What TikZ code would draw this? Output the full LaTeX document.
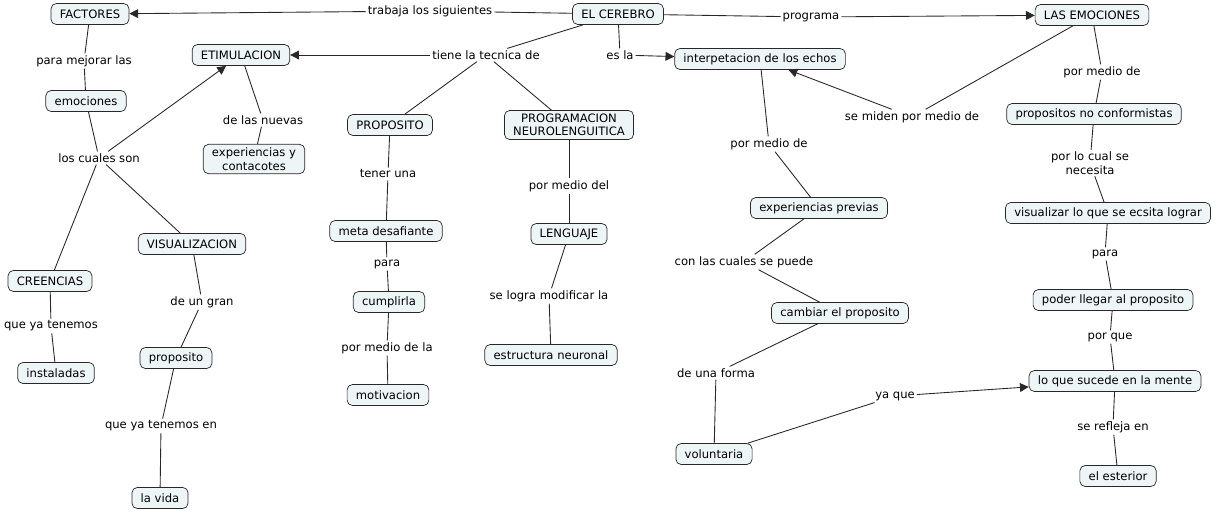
\documentclass[tikz,border=0pt]{standalone}
\usepackage{fontspec}
\setmainfont{DejaVu Sans}
\usetikzlibrary{arrows.meta}
\definecolor{cfill}{RGB}{238,245,246}
\definecolor{cline}{RGB}{40,40,40}

\begin{document}
\begin{tikzpicture}[x=0.02cm,y=-0.02cm]

\tikzset{concept/.style={font=\fontsize{6.6}{7.6}\selectfont,draw=cline,fill=cfill,rounded corners=3pt,inner xsep=5pt,inner ysep=2pt,minimum height=0.42cm,align=center},
link/.style={font=\fontsize{6.6}{7.6}\selectfont,fill=white,inner sep=1pt,align=center},
conn/.style={draw=cline,line width=0.5pt},
arr/.style={conn,-{Triangle[length=5pt,width=5pt]}}}

\path[use as bounding box] (0,0) rectangle (1217,512);

% Concepts
\node[concept] (factores) at (90,14) {FACTORES};
\node[concept] (cerebro) at (618,14) {EL CEREBRO};
\node[concept] (lasemoc) at (1092,15) {LAS EMOCIONES};
\node[concept] (etimul) at (241,55) {ETIMULACION};
\node[concept] (interp) at (760,59) {interpetacion de los echos};
\node[concept] (emoc) at (86,101) {emociones};
\node[concept] (propno) at (1094,114) {propositos no conformistas};
\node[concept] (propos) at (390,125) {PROPOSITO};
\node[concept] (progneu) at (569,125) {PROGRAMACION\\NEUROLENGUITICA};
\node[concept] (expcont) at (254,159) {experiencias y\\contacotes};
\node[concept] (exprev) at (819,208) {experiencias previas};
\node[concept] (visual) at (1108,213) {visualizar lo que se ecsita lograr};
\node[concept] (meta) at (386,231) {meta desafiante};
\node[concept] (lenguaje) at (569,234) {LENGUAJE};
\node[concept] (visualiz) at (192,244) {VISUALIZACION};
\node[concept] (creenc) at (50,281) {CREENCIAS};
\node[concept] (cumpl) at (389,302) {cumplirla};
\node[concept] (poder) at (1113,300) {poder llegar al proposito};
\node[concept] (cambiar) at (840,313) {cambiar el proposito};
\node[concept] (estruct) at (551,355) {estructura neuronal};
\node[concept] (proposito) at (176,358) {proposito};
\node[concept] (instal) at (56,373) {instaladas};
\node[concept] (sucede) at (1115,381) {lo que sucede en la mente};
\node[concept] (motiv) at (388,395) {motivacion};
\node[concept] (volunt) at (714,454) {voluntaria};
\node[concept] (esterior) at (1118,476) {el esterior};
\node[concept] (vida) at (160,498) {la vida};

% Linking phrases
\node[link] (l1) at (430,11) {trabaja los siguientes};
\node[link] (l2) at (811,17) {programa};
\node[link] (l3) at (486,55) {tiene la tecnica de};
\node[link] (l4) at (620,55) {es la};
\node[link] (l5) at (84,61) {para mejorar las};
\node[link] (l6) at (1102,72) {por medio de};
\node[link] (l7) at (263,120) {de las nuevas};
\node[link] (l8) at (912,117) {se miden por medio de};
\node[link] (l9) at (99,158) {los cuales son};
\node[link] (l10) at (769,144) {por medio de};
\node[link] (l11) at (1090,163) {por lo cual se\\necesita};
\node[link] (l12) at (388,174) {tener una};
\node[link] (l13) at (569,186) {por medio del};
\node[link] (l14) at (744,262) {con las cuales se puede};
\node[link] (l15) at (1105,254) {para};
\node[link] (l16) at (387,264) {para};
\node[link] (l17) at (202,302) {de un gran};
\node[link] (l18) at (549,296) {se logra modificar la};
\node[link] (l19) at (51,326) {que ya tenemos};
\node[link] (l20) at (1110,337) {por que};
\node[link] (l21) at (387,348) {por medio de la};
\node[link] (l22) at (716,373) {de una forma};
\node[link] (l23) at (895,396) {ya que};
\node[link] (l24) at (1113,427) {se refleja en};
\node[link] (l25) at (161,426) {que ya tenemos en};

% Connections
\draw[conn] (cerebro) -- (l1); \draw[arr] (l1) -- (factores);
\draw[conn] (cerebro) -- (l2); \draw[arr] (l2) -- (lasemoc);
\draw[conn] (cerebro) -- (l3); \draw[arr] (l3) -- (etimul);
\draw[conn] (l3) -- (propos); \draw[conn] (l3) -- (progneu);
\draw[conn] (cerebro) -- (l4); \draw[arr] (l4) -- (interp);
\draw[conn] (factores) -- (l5); \draw[conn] (l5) -- (emoc);
\draw[conn] (emoc) -- (l9); \draw[arr] (l9) -- (etimul);
\draw[conn] (l9) -- (creenc); \draw[conn] (l9) -- (visualiz);
\draw[conn] (etimul) -- (l7); \draw[conn] (l7) -- (expcont);
\draw[conn] (lasemoc) -- (l6); \draw[conn] (l6) -- (propno);
\draw[conn] (lasemoc) -- (l8); \draw[arr] (l8) -- (interp);
\draw[conn] (propno) -- (l11); \draw[conn] (l11) -- (visual);
\draw[conn] (visual) -- (l15); \draw[conn] (l15) -- (poder);
\draw[conn] (poder) -- (l20); \draw[conn] (l20) -- (sucede);
\draw[conn] (sucede) -- (l24); \draw[conn] (l24) -- (esterior);
\draw[conn] (interp) -- (l10); \draw[conn] (l10) -- (exprev);
\draw[conn] (exprev) -- (l14); \draw[conn] (l14) -- (cambiar);
\draw[conn] (cambiar) -- (l22); \draw[conn] (l22) -- (volunt);
\draw[conn] (volunt) -- (l23); \draw[arr] (l23) -- (sucede);
\draw[conn] (propos) -- (l12); \draw[conn] (l12) -- (meta);
\draw[conn] (meta) -- (l16); \draw[conn] (l16) -- (cumpl);
\draw[conn] (cumpl) -- (l21); \draw[conn] (l21) -- (motiv);
\draw[conn] (progneu) -- (l13); \draw[conn] (l13) -- (lenguaje);
\draw[conn] (lenguaje) -- (l18); \draw[conn] (l18) -- (estruct);
\draw[conn] (visualiz) -- (l17); \draw[conn] (l17) -- (proposito);
\draw[conn] (proposito) -- (l25); \draw[conn] (l25) -- (vida);
\draw[conn] (creenc) -- (l19); \draw[conn] (l19) -- (instal);

\end{tikzpicture}
\end{document}
